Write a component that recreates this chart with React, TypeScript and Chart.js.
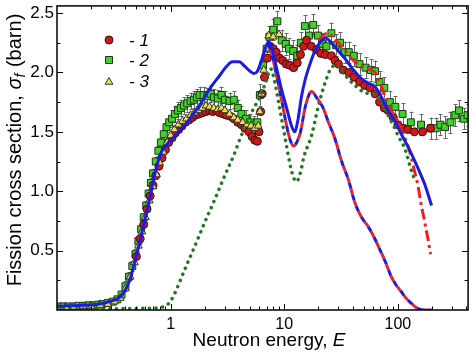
import React, { useEffect, useRef } from 'react';
import { Chart, registerables } from 'chart.js';

Chart.register(...registerables);

const FONT = '"Liberation Sans", Arial, Helvetica, sans-serif';

// ---- axis ticks ----
const xTickValues = [0.2, 0.3, 0.4, 0.5, 0.6, 0.7, 0.8, 0.9, 1, 2, 3, 4, 5, 6, 7, 8, 9, 10, 20, 30, 40, 50, 60, 70, 80, 90, 100, 200, 300, 400];
const xLabelValues = [1, 10, 100];
const yTickValues = [0, 0.25, 0.5, 0.75, 1, 1.25, 1.5, 1.75, 2, 2.25, 2.5];
const yLabelValues = [0.5, 1, 1.5, 2, 2.5];

const xTitle = 'Neutron energy, ';
const xTitleItalic = 'E';
const yTitleA = 'Fission cross section, ';
const yTitleSigma = 'σ';
const yTitleSub = 'f';
const yTitleB = ' (barn)';
const legendLabels = ['- 1', '- 2', '- 3'];

// ---- series 1 (red circles) ----
const s1E = [0.50, 0.54, 0.58, 0.62, 0.66, 0.70, 0.74, 0.79, 0.84, 0.90, 0.96, 1.03, 1.10, 1.18, 1.26, 1.35, 1.45, 1.55, 1.66, 1.78, 1.90, 2.05, 2.20, 2.35, 2.50, 2.70, 2.90, 3.10, 3.35, 3.60, 3.90, 4.20, 4.50, 4.90, 5.20, 5.50, 5.80, 6.00, 6.20, 6.40, 6.70, 7.10, 7.50, 8.00, 8.50, 9.10, 9.70, 10.4, 11.2, 12.1, 13.0, 13.9, 14.8, 15.7, 17.3, 19.2, 21, 23, 26, 28, 30, 33, 37, 41, 46, 51, 57, 63, 69, 76, 82, 91, 100, 112, 122, 140, 165, 194];
const s1Y = [0.45, 0.6, 0.72, 0.85, 0.96, 1.05, 1.13, 1.21, 1.28, 1.35, 1.41, 1.45, 1.49, 1.52, 1.55, 1.58, 1.6, 1.62, 1.64, 1.65, 1.66, 1.67, 1.68, 1.67, 1.68, 1.66, 1.65, 1.64, 1.63, 1.61, 1.58, 1.56, 1.53, 1.50, 1.46, 1.43, 1.42, 1.50, 1.67, 1.82, 1.96, 2.12, 2.22, 2.20, 2.17, 2.12, 2.10, 2.07, 2.06, 2.04, 2.08, 2.15, 2.22, 2.27, 2.22, 2.19, 2.16, 2.15, 2.14, 2.10, 2.07, 2.02, 2.00, 1.96, 1.92, 1.89, 1.87, 1.82, 1.75, 1.70, 1.68, 1.62, 1.56, 1.53, 1.52, 1.50, 1.50, 1.53];

// ---- series 2 (green squares with error bars) ----
const s2E = [0.105, 0.115, 0.125, 0.14, 0.155, 0.17, 0.19, 0.21, 0.23, 0.25, 0.28, 0.31, 0.34, 0.37, 0.40, 0.43, 0.46, 0.49, 0.52, 0.55, 0.58, 0.61, 0.64, 0.67, 0.70, 0.74, 0.78, 0.82, 0.87, 0.92, 0.97, 1.03, 1.09, 1.16, 1.23, 1.31, 1.40, 1.50, 1.60, 1.70, 1.80, 1.95, 2.10, 2.25, 2.40, 2.60, 2.80, 3.00, 3.30, 3.60, 3.90, 4.20, 4.60, 5.00, 5.40, 5.80, 6.10, 6.50, 7.00, 7.40, 8.00, 8.70, 9.50, 10.3, 11.0, 12.0, 13.0, 14.0, 15.2, 16.5, 18.0, 19.8, 21.5, 23.5, 26, 28.5, 31, 34, 37, 41, 46, 52, 58, 63, 69, 76, 85, 95, 110, 130, 160, 195, 215, 237, 260, 290, 320, 345, 380, 410];
const s2Y = [0.03, 0.03, 0.03, 0.03, 0.035, 0.035, 0.04, 0.04, 0.045, 0.05, 0.06, 0.07, 0.09, 0.13, 0.2, 0.28, 0.37, 0.47, 0.58, 0.68, 0.78, 0.88, 0.98, 1.07, 1.15, 1.25, 1.34, 1.41, 1.48, 1.54, 1.58, 1.61, 1.65, 1.68, 1.70, 1.72, 1.74, 1.76, 1.77, 1.79, 1.81, 1.81, 1.80, 1.82, 1.79, 1.78, 1.81, 1.77, 1.76, 1.77, 1.70, 1.65, 1.61, 1.58, 1.56, 1.58, 1.81, 2.06, 2.20, 2.30, 2.36, 2.43, 2.27, 2.24, 2.20, 2.18, 2.14, 2.25, 2.39, 2.31, 2.40, 2.31, 2.24, 2.22, 2.33, 2.23, 2.25, 2.17, 2.17, 2.14, 2.07, 2.04, 2.02, 2.01, 1.92, 1.87, 1.75, 1.71, 1.65, 1.58, 1.56, 1.53, 1.53, 1.56, 1.54, 1.58, 1.64, 1.68, 1.61, 1.64];
const s2Err = [0.02, 0.02, 0.02, 0.02, 0.02, 0.02, 0.02, 0.02, 0.02, 0.02, 0.02, 0.02, 0.02, 0.02, 0.04, 0.04, 0.04, 0.04, 0.04, 0.04, 0.04, 0.04, 0.04, 0.04, 0.04, 0.04, 0.04, 0.04, 0.04, 0.04, 0.04, 0.07, 0.07, 0.07, 0.07, 0.07, 0.07, 0.07, 0.07, 0.07, 0.07, 0.07, 0.07, 0.07, 0.07, 0.07, 0.07, 0.07, 0.07, 0.07, 0.07, 0.07, 0.07, 0.07, 0.07, 0.07, 0.09, 0.09, 0.09, 0.09, 0.09, 0.09, 0.09, 0.09, 0.09, 0.09, 0.09, 0.09, 0.09, 0.09, 0.09, 0.09, 0.09, 0.09, 0.09, 0.09, 0.09, 0.09, 0.09, 0.09, 0.09, 0.09, 0.09, 0.09, 0.09, 0.09, 0.09, 0.09, 0.09, 0.09, 0.09, 0.09, 0.09, 0.09, 0.09, 0.09, 0.09, 0.09, 0.09, 0.09];

// ---- series 3 (yellow triangles) ----
const s3E = [0.10, 0.12, 0.14, 0.17, 0.20, 0.24, 0.28, 0.32, 0.36, 0.40, 0.44, 0.48, 0.52, 0.56, 0.60, 0.65, 0.70, 0.75, 0.80, 0.86, 0.93, 1.00, 1.08, 1.17, 1.27, 1.38, 1.50, 1.62, 1.75, 1.90, 2.05, 2.20, 2.40, 2.60, 2.80, 3.00, 3.30, 3.60, 3.90, 4.30, 4.70, 5.10, 5.50, 5.90, 6.10, 6.30, 6.60, 7.00, 7.30, 8.00, 9.00];
const s3Y = [0.02, 0.02, 0.025, 0.03, 0.03, 0.04, 0.05, 0.07, 0.1, 0.18, 0.28, 0.4, 0.54, 0.66, 0.78, 0.92, 1.04, 1.14, 1.24, 1.33, 1.41, 1.47, 1.52, 1.56, 1.59, 1.61, 1.64, 1.66, 1.68, 1.70, 1.72, 1.71, 1.70, 1.69, 1.70, 1.68, 1.65, 1.62, 1.60, 1.58, 1.56, 1.55, 1.53, 1.55, 1.67, 1.82, 2.02, 2.20, 2.31, 2.30, 2.32];

// ---- blue solid curve ----
const blueE = [0.1, 0.13, 0.17, 0.21, 0.25, 0.29, 0.33, 0.36, 0.40, 0.44, 0.47, 0.50, 0.54, 0.59, 0.655, 0.70, 0.755, 0.83, 0.9, 0.98, 1.1, 1.27, 1.5, 1.79, 2.2, 2.68, 3.1, 3.5, 4.0, 4.5, 5.0, 5.4, 5.8, 6.3, 6.8, 7.3, 7.8, 8.5, 9.5, 10.5, 11.5, 12.4, 13.2, 14.2, 15.2, 16.3, 18.8, 21, 23, 26, 30, 34, 40, 47.5, 55, 63, 71, 82, 94, 100, 110, 122, 140, 159, 172, 198];
const blueY = [0.03, 0.035, 0.04, 0.045, 0.055, 0.07, 0.09, 0.11, 0.17, 0.26, 0.36, 0.46, 0.59, 0.75, 0.94, 1.08, 1.21, 1.33, 1.38, 1.42, 1.47, 1.53, 1.62, 1.72, 1.86, 1.97, 2.05, 2.09, 2.09, 2.05, 2.01, 1.99, 2.01, 2.1, 2.2, 2.26, 2.2, 2.05, 1.85, 1.7, 1.56, 1.5, 1.6, 1.8, 1.93, 2.03, 2.19, 2.26, 2.29, 2.25, 2.18, 2.12, 2.03, 1.95, 1.91, 1.88, 1.8, 1.68, 1.59, 1.54, 1.46, 1.38, 1.26, 1.14, 1.06, 0.88];

// ---- red dash-dot curve ----
const dashDotE = [20, 22.5, 24.5, 27, 30, 34, 38.7, 44.7, 52, 58, 63, 67, 71, 75, 78, 82, 90, 100, 106, 115, 122, 130, 140, 150, 160, 170, 177, 183, 190, 194];
const dashDotY = [2.27, 2.32, 2.33, 2.29, 2.25, 2.19, 2.12, 2.07, 2.04, 2.02, 2.0, 1.95, 1.89, 1.83, 1.78, 1.73, 1.66, 1.59, 1.53, 1.45, 1.39, 1.3, 1.17, 1.05, 0.89, 0.77, 0.68, 0.61, 0.52, 0.47];

// ---- red / blue dashed curves ----
const dashE = [7.3, 8.0, 8.8, 9.6, 10.5, 11.3, 12.1, 13.0, 13.9, 15.4, 17.4, 19.2, 22, 24.5, 28, 32, 36.6, 42, 47.9, 55, 62.7, 67, 76.5, 87.6, 95, 106, 118, 130, 145, 160, 180, 198];
const dashY = [2.24, 2.1, 1.92, 1.74, 1.55, 1.43, 1.38, 1.42, 1.5, 1.72, 1.84, 1.79, 1.7, 1.58, 1.44, 1.25, 1.1, 0.9, 0.78, 0.7, 0.6, 0.54, 0.42, 0.28, 0.22, 0.16, 0.1, 0.06, 0.02, 0.005, 0.0, 0.0];

// ---- green dotted curve ----
const dotE = [0.1, 0.15, 0.2, 0.3, 0.4, 0.5, 0.6, 0.7, 0.8, 0.88, 0.95, 1.05, 1.33, 1.62, 1.98, 2.42, 2.96, 3.62, 4.0, 4.8, 5.4, 6.0, 6.9, 7.6, 8.2, 8.9, 9.6, 10.3, 11.6, 12.8, 14.0, 14.8, 17.4, 20, 23, 26, 29, 33, 37, 42, 51, 63, 70, 77, 85, 94, 100, 115, 130, 140];
const dotY = [0.01, 0.01, 0.01, 0.01, 0.012, 0.012, 0.015, 0.015, 0.02, 0.03, 0.05, 0.11, 0.34, 0.53, 0.73, 0.92, 1.12, 1.31, 1.42, 1.6, 1.7, 1.78, 1.92, 2.03, 1.93, 1.75, 1.58, 1.42, 1.17, 1.08, 1.17, 1.28, 1.47, 1.72, 1.92, 2.04, 2.06, 2.0, 1.94, 1.89, 1.83, 1.81, 1.76, 1.69, 1.61, 1.53, 1.47, 1.36, 1.19, 1.1];

const pts = (xs: number[], ys: number[]) => xs.map((x, i) => ({ x, y: ys[i] }));

const RED = '#d01818';
const GREEN = '#3fd22a';
const YELLOW = '#ece04a';
const BLUE = '#1c1ce0';

const GREEN_INDEX = 7;

const errorBarPlugin = {
  id: 'errorBars',
  beforeDatasetsDraw(chart: any) {
    const meta = chart.getDatasetMeta(GREEN_INDEX);
    const { ctx, chartArea: a } = chart;
    const y = chart.scales.y;
    ctx.save();
    ctx.beginPath();
    ctx.rect(a.left, a.top, a.right - a.left, a.bottom - a.top);
    ctx.clip();
    ctx.strokeStyle = '#666';
    ctx.lineWidth = 1;
    ctx.beginPath();
    meta.data.forEach((el: any, i: number) => {
      const v = s2Y[i];
      const e = s2Err[i];
      const t = y.getPixelForValue(v + e);
      const b = y.getPixelForValue(v - e);
      const px = Math.round(el.x) + 0.5;
      ctx.moveTo(px, t); ctx.lineTo(px, b);
      ctx.moveTo(px - 2, Math.round(t) + 0.5); ctx.lineTo(px + 2, Math.round(t) + 0.5);
      ctx.moveTo(px - 2, Math.round(b) + 0.5); ctx.lineTo(px + 2, Math.round(b) + 0.5);
    });
    ctx.stroke();
    ctx.restore();
  },
};

const frameTicksPlugin = {
  id: 'frameTicks',
  afterDatasetsDraw(chart: any) {
    const { ctx, chartArea: a } = chart;
    const x = chart.scales.x;
    const y = chart.scales.y;
    ctx.save();
    ctx.strokeStyle = '#000';
    ctx.lineWidth = 1;
    ctx.beginPath();
    x.ticks.forEach((t: any) => {
      const px = Math.round(x.getPixelForValue(t.value)) + 0.5;
      if (px <= a.left + 1 || px >= a.right - 1) return;
      const len = xLabelValues.includes(t.value) ? 6 : 3.5;
      ctx.moveTo(px, a.bottom); ctx.lineTo(px, a.bottom - len);
      ctx.moveTo(px, a.top); ctx.lineTo(px, a.top + len);
    });
    y.ticks.forEach((t: any) => {
      const py = Math.round(y.getPixelForValue(t.value)) + 0.5;
      if (py <= a.top + 1 || py >= a.bottom - 1) return;
      const len = yLabelValues.includes(t.value) ? 6 : 3.5;
      ctx.moveTo(a.left, py); ctx.lineTo(a.left + len, py);
      ctx.moveTo(a.right, py); ctx.lineTo(a.right - len, py);
    });
    ctx.stroke();
    ctx.lineWidth = 1.5;
    ctx.strokeRect(a.left, a.top, a.right - a.left, a.bottom - a.top);
    ctx.restore();
  },
};

const legendPlugin = {
  id: 'customLegend',
  afterDraw(chart: any) {
    const { ctx } = chart;
    const mx = 109;
    const rows = [40, 60, 81];
    ctx.save();
    ctx.lineWidth = 1;
    ctx.strokeStyle = '#331111';
    ctx.fillStyle = RED;
    ctx.beginPath(); ctx.arc(mx, rows[0], 4, 0, Math.PI * 2); ctx.fill(); ctx.stroke();
    ctx.strokeStyle = '#1a3a10';
    ctx.fillStyle = GREEN;
    ctx.beginPath(); ctx.rect(mx - 3.5, rows[1] - 3.5, 7, 7); ctx.fill(); ctx.stroke();
    ctx.strokeStyle = '#333';
    ctx.fillStyle = YELLOW;
    const r = 4.5;
    ctx.beginPath();
    for (let k = 0; k < 3; k++) {
      const ang = (k * 2 * Math.PI) / 3;
      const vx = mx + Math.sin(ang) * r;
      const vy = rows[2] + 1 - Math.cos(ang) * r;
      if (k === 0) ctx.moveTo(vx, vy); else ctx.lineTo(vx, vy);
    }
    ctx.closePath(); ctx.fill(); ctx.stroke();
    ctx.fillStyle = '#000';
    ctx.font = `italic 17px ${FONT}`;
    ctx.textBaseline = 'middle';
    ctx.textAlign = 'left';
    legendLabels.forEach((lab, i) => ctx.fillText(lab, 129, rows[i] + 1));
    ctx.restore();
  },
};

const titlePlugin = {
  id: 'axisTitles',
  afterDraw(chart: any) {
    const { ctx } = chart;
    ctx.save();
    ctx.fillStyle = '#000';
    ctx.textBaseline = 'alphabetic';
    ctx.textAlign = 'left';
    const nf = `19px ${FONT}`;
    const itf = `italic 19px ${FONT}`;
    ctx.font = nf;
    const w1 = ctx.measureText(xTitle).width;
    ctx.font = itf;
    const w2 = ctx.measureText(xTitleItalic).width;
    const sx = 269 - (w1 + w2) / 2;
    ctx.font = nf; ctx.fillText(xTitle, sx, 346);
    ctx.font = itf; ctx.fillText(xTitleItalic, sx + w1, 346);
    const ynf = `20px ${FONT}`;
    const yif = `italic 20px ${FONT}`;
    const subf = `italic 14px ${FONT}`;
    ctx.font = ynf; const a1 = ctx.measureText(yTitleA).width;
    ctx.font = yif; const a2 = ctx.measureText(yTitleSigma).width;
    ctx.font = subf; const a3 = ctx.measureText(yTitleSub).width + 1;
    ctx.font = ynf; const a4 = ctx.measureText(yTitleB).width;
    const total = a1 + a2 + a3 + a4;
    ctx.translate(21, 150);
    ctx.rotate(-Math.PI / 2);
    let cx = -total / 2;
    ctx.font = ynf; ctx.fillText(yTitleA, cx, 0); cx += a1;
    ctx.font = yif; ctx.fillText(yTitleSigma, cx, 0); cx += a2;
    ctx.font = subf; ctx.fillText(yTitleSub, cx, 4); cx += a3;
    ctx.font = ynf; ctx.fillText(yTitleB, cx, 0);
    ctx.restore();
  },
};

export default function App() {
  const ref = useRef<HTMLCanvasElement>(null);
  useEffect(() => {
    if (!ref.current) return;
    const lineBase = { showLine: true, pointRadius: 0, fill: false, cubicInterpolationMode: 'monotone' as const };
    const chart = new Chart(ref.current, {
      type: 'scatter',
      data: {
        datasets: [
          { ...lineBase, label: 'blue', data: pts(blueE, blueY), borderColor: BLUE, borderWidth: 3 },
          { ...lineBase, label: 'blueDash', data: pts(dashE, dashY), borderColor: BLUE, borderWidth: 3, borderDash: [6, 6] },
          { ...lineBase, label: 'redDash', data: pts(dashE, dashY), borderColor: '#ee2020', borderWidth: 3, borderDash: [6, 6], borderDashOffset: 6 },
          { ...lineBase, label: 'redDashDot', data: pts(dashDotE, dashDotY), borderColor: '#ee2020', borderWidth: 3, borderDash: [11, 4, 3, 4] },
          { ...lineBase, label: 'greenDot', data: pts(dotE, dotY), borderColor: '#1f7a1f', borderWidth: 3.5, borderDash: [0.1, 6.5], borderCapStyle: 'round' as const },
          { label: '3', data: pts(s3E, s3Y), pointStyle: 'triangle', pointRadius: 4.5, backgroundColor: YELLOW, borderColor: '#333', borderWidth: 1 },
          { label: '1', data: pts(s1E, s1Y), pointStyle: 'circle', pointRadius: 4, backgroundColor: RED, borderColor: '#331111', borderWidth: 1 },
          { label: '2', data: pts(s2E, s2Y), pointStyle: 'rect', pointRadius: 4.9, backgroundColor: GREEN, borderColor: '#1a3a10', borderWidth: 1 },
        ],
      },
      options: {
        animation: false,
        responsive: false,
        devicePixelRatio: 1,
        events: [],
        layout: { padding: { left: 0, right: 3, top: 3, bottom: 0 } },
        plugins: { legend: { display: false }, tooltip: { enabled: false } },
        scales: {
          x: {
            type: 'logarithmic',
            min: 0.1,
            max: 415,
            grid: { display: false, drawTicks: false },
            border: { display: false },
            afterBuildTicks: (s: any) => { s.ticks = xTickValues.map((v) => ({ value: v })); },
            afterFit: (s: any) => { s.height = 43; s.paddingLeft = 0; s.paddingRight = 0; },
            ticks: {
              autoSkip: false,
              maxRotation: 0,
              padding: 5,
              color: '#000',
              font: { family: FONT, size: 16 },
              callback: (v: any) => (xLabelValues.includes(Number(v)) ? String(v) : ''),
            },
          },
          y: {
            type: 'linear',
            min: 0,
            max: 2.56,
            grid: { display: false, drawTicks: false },
            border: { display: false },
            afterBuildTicks: (s: any) => { s.ticks = yTickValues.map((v) => ({ value: v })); },
            afterFit: (s: any) => { s.width = 57; s.paddingTop = 0; s.paddingBottom = 0; },
            ticks: {
              padding: 3,
              color: '#000',
              font: { family: FONT, size: 17 },
              callback: (v: any) => (yLabelValues.includes(Number(v)) ? Number(v).toFixed(1) : ''),
            },
          },
        },
      },
      plugins: [errorBarPlugin, frameTicksPlugin, legendPlugin, titlePlugin],
    } as any);
    return () => chart.destroy();
  }, []);
  return (
    <div style={{ position: 'absolute', left: 0, top: 0, width: 474, height: 353, background: '#fff' }}>
      <canvas ref={ref} width={474} height={353} style={{ display: 'block', width: 474, height: 353 }} />
    </div>
  );
}
